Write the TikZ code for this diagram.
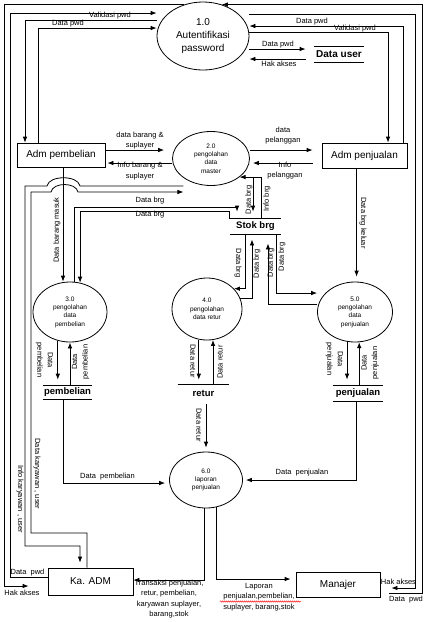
\documentclass[tikz,border=0pt]{standalone}
\usepackage{fontspec}
\setmainfont{Liberation Sans}
\usetikzlibrary{shapes.geometric,decorations.pathmorphing,arrows.meta}
\begin{document}
\begin{tikzpicture}[x=1pt,y=-1pt,line width=0.8pt,>={Latex[length=6pt,width=4.6pt]},
  entitas/.style={draw,rectangle,inner sep=0pt,font=\fontsize{10}{12}\selectfont},
  proses/.style={draw,ellipse,inner sep=0pt,align=center,font=\fontsize{6.5}{8.3}\selectfont},
  gudang/.style={inner sep=0pt,font=\bfseries\fontsize{9.5}{11}\selectfont},
  ket/.style={inner sep=0pt,align=center,font=\fontsize{7.5}{10.5}\selectfont}]
\useasboundingbox (0,0) rectangle (432,622);

  %% entitas luar
  \node[entitas,minimum width=88pt,minimum height=24pt] (admbeli) at (61,155) {Adm pembelian};
  \node[entitas,minimum width=85pt,minimum height=25pt] (admjual) at (364.5,155.5) {Adm penjualan};
  \node[entitas,minimum width=85pt,minimum height=27pt] (kaadm) at (90.5,581.5) {Ka. ADM};
  \node[entitas,minimum width=84pt,minimum height=25pt] (manajer) at (338,584.5) {Manajer};

  %% proses
  \node[proses,minimum width=92pt,minimum height=68pt,font=\fontsize{10}{13}\selectfont] (p1) at (203,36) {1.0\\Autentifikasi\\password};
  \node[proses,minimum width=77pt,minimum height=54pt] (p2) at (211,158.5) {2.0\\pengolahan\\data\\master};
  \node[proses,minimum width=74pt,minimum height=60pt] (p3) at (70,312) {3.0\\pengolahan\\data\\pembelian};
  \node[proses,minimum width=70pt,minimum height=62pt] (p4) at (207,309) {4.0\\pengolahan\\data retur};
  \node[proses,minimum width=75pt,minimum height=60pt] (p5) at (355,312) {5.0\\pengolahan\\data\\penjualan};
  \node[proses,minimum width=73pt,minimum height=56pt] (p6) at (206,480) {6.0\\laporan\\penjualan};

  %% penyimpanan data
  \node[gudang,minimum width=50pt,minimum height=15pt,font=\bfseries\fontsize{10}{12}\selectfont] (duser) at (339,54.5) {Data user};
  \node[gudang,minimum width=51pt,minimum height=15pt] (stok) at (255.5,226.5) {Stok brg};
  \node[gudang,minimum width=49pt,minimum height=13pt] (sbeli) at (67.5,392.5) {pembelian};
  \node[gudang,minimum width=50pt,minimum height=15pt] (sjual) at (358,393.5) {penjualan};
  \node[gudang,minimum width=51pt,minimum height=16pt] (retur) at (203.5,393) {retur};
  \foreach \g in {duser,stok,sbeli,sjual} \draw (\g.north west)--(\g.north east) (\g.south west)--(\g.south east);
  \draw (retur.north west)--(retur.north east);

  %% alur password
  \draw[->,shorten >=19pt] (p1.121) -| (4,586) -- (kaadm.west |- 0,586);
  \draw[->] (kaadm.west |- 0,577) -| (10,13) -- (p1.west |- 0,13);
  \draw[->] (p1.west |- 0,20) -| (25,0 |- admbeli.north);
  \draw[->] (38,0 |- admbeli.north) |- (p1.west |- 0,28);
  \draw[->,shorten >=11pt] (p1.east |- 0,14) -| (415,588) -- (manajer.east |- 0,588);
  \draw[->] (403,0 |- admjual.north) |- (p1.east |- 0,26);
  \draw[->] (p1.east |- 0,32) -| (388,0 |- admjual.north);
  \draw[->,shorten <=9pt] (manajer.east |- 0,593) -| (p1.59 -| 422,0) -- (p1.59);
  \draw[->,shorten >=8pt] (p1.east |- 0,49) -- (duser.west |- 0,49);
  \draw[->,shorten <=8pt] (duser.west |- 0,59) -- (p1.east |- 0,59);

  %% data master
  \draw[->,shorten >=8pt] (admbeli.east |- 0,150) -- (p2.west |- 0,150);
  \draw[->,shorten >=2pt] (p2.west |- 0,163) -- (admbeli.east |- 0,163);
  \draw[->,shorten >=9pt] (p2.east |- 0,150) -- (admjual.west |- 0,150);
  \draw[->,shorten <=9pt,shorten >=3pt] (admjual.west |- 0,163) -- (p2.east |- 0,163);
  \draw[->,shorten >=7pt] (p2.-33 -| 253,0) -- (253,0 |- stok.north);
  \draw[->] (261,0 |- stok.north) |- (p2.-33);
  \draw[->,shorten >=5pt] (p2.south west |- 0,186) -- (80,186) .. controls (78,175) and (49,175) .. (47,186) -| (25,546) -| (80,0 |- kaadm.north);
  \draw[->] (87,0 |- kaadm.north) |- (31,533) -- (31,192) -- (51,192) .. controls (53,182) and (76,182) .. (78,192) -- (p2.south west |- 0,192);

  %% barang
  \draw[->] (63,0 |- admbeli.south) -- (63,0 |- p3.north);
  \draw[->,shorten >=5pt] (p5.87 |- admjual.south) -- (p5.87);
  \draw[->,shorten >=7pt] (p3.82) |- (237,207) -- (237,0 |- stok.north);
  \draw[->] (stok.north west) |- (p3.71 |- 0,211) -- (p3.71);
  \draw[->] (245,0 |- stok.south) |- (p4.37);
  \draw[->,shorten >=5pt] (p4.17) -| (252,0 |- stok.south);
  \draw[->] (276,0 |- stok.south) |- (p5.west |- 0,293);
  \draw[->,shorten >=9pt] (p5.west |- 0,304) -| (268,0 |- stok.south);

  %% transaksi
  \draw[->,shorten >=6pt] (p3.247) -- (p3.247 |- sbeli.north);
  \draw[->] (p3.south |- sbeli.north) -- (p3.south);
  \draw[->,shorten >=5pt] (p4.255) -- (p4.255 |- retur.north);
  \draw[->] (p4.-79 |- retur.north) -- (p4.-79);
  \draw[->,shorten >=6pt] (p5.255) -- (p5.255 |- sjual.north);
  \draw[->] (p5.-82 |- sjual.north) -- (p5.-82);

  %% laporan
  \draw[->,shorten >=4pt] (63,0 |- sbeli.south) |- (p6.west |- 0,483);
  \draw[->,shorten >=3pt] (356,0 |- sjual.south) |- (p6.east |- 0,480);
  \draw[->,shorten <=3pt,shorten >=4pt] (206,0 |- retur.south) -- (206,0 |- p6.north);
  \draw[->] (p6.-94) |- (kaadm.east |- 0,580);
  \draw[->,shorten >=5pt] (p6.-70) |- (manajer.west |- 0,579);

  %% keterangan
  \node[ket] (t1) at (110,16) {Validasi pwd};
  \node[ket] (t2) at (68,24) {Data pwd};
  \node[ket] (t3) at (312,22) {Data pwd};
  \node[ket] (t4) at (355,29) {Validasi pwd};
  \node[ket] (t5) at (278,45) {Data pwd};
  \node[ket] (t6) at (279,64) {Hak akses};
  \node[ket] (t7) at (140,140.5) {data barang \&\\suplayer};
  \node[ket] (t8) at (140,171) {Info barang \&\\suplayer};
  \node[ket] (t9) at (283,135.5) {data\\pelanggan};
  \node[ket] (t10) at (285,170.5) {Info\\pelanggan};
  \node[ket,rotate=90] (t11) at (57,230) {Data barang masuk};
  \node[ket,rotate=-90] (t12) at (363,223) {Data brg keluar};
  \node[ket] (t13) at (150,201) {Data brg};
  \node[ket] (t14) at (150,215) {Data brg};
  \node[ket,rotate=90] (t15) at (249,200) {Data brg};
  \node[ket,rotate=90] (t16) at (267,199) {Info brg};
  \node[ket,rotate=-90] (t17) at (238,263) {Data brg};
  \node[ket,rotate=90] (t18) at (257,264) {Data brg};
  \node[ket,rotate=90] (t19) at (271,263) {Data brg};
  \node[ket,rotate=90] (t20) at (282,257) {Data brg};
  \node[ket,rotate=-90] (t21) at (44.5,360) {Data\\pembelian};
  \node[ket,rotate=90] (t22) at (80.5,362) {Data\\pembelian};
  \node[ket,rotate=-90] (t23) at (334.5,359) {Data\\penjualan};
  \node[ket,rotate=90] (t24) at (370,363) {Data\\penjualan};
  \node[ket,rotate=-90] (t25) at (193,361) {Data retur};
  \node[ket,rotate=90] (t26) at (220,362) {Data retur};
  \node[ket,rotate=-90] (t27) at (199,425) {Data retur};
  \node[ket] (t28) at (107.5,477) {Data\ \ pembelian};
  \node[ket] (t29) at (302,473) {Data\ \ penjualan};
  \node[ket,rotate=-90] (t30) at (20,499) {Info karyawan , user};
  \node[ket,rotate=-90] (t31) at (37,474) {Data karyawan , user};
  \node[ket] (t32) at (27.5,573) {Data\ \ pwd};
  \node[ket] (t33) at (22,593) {Hak akses};
  \node[ket] (t34) at (169,599) {Transaksi penjualan,\\retur, pembelian,\\karyawan suplayer,\\barang,stok};
  \node[ket] (t35) at (259,597) {Laporan\\penjualan,pembelian,\\suplayer, barang,stok};
  \node[ket] (t36) at (398.5,582) {Hak akses};
  \node[ket] (t37) at (406,600) {Data\ \ pwd};
  \draw[red,line width=0.5pt,decorate,decoration={snake,amplitude=0.6pt,segment length=2pt}] (220,601.5) -- (301,601.5);
\end{tikzpicture}
\end{document}
